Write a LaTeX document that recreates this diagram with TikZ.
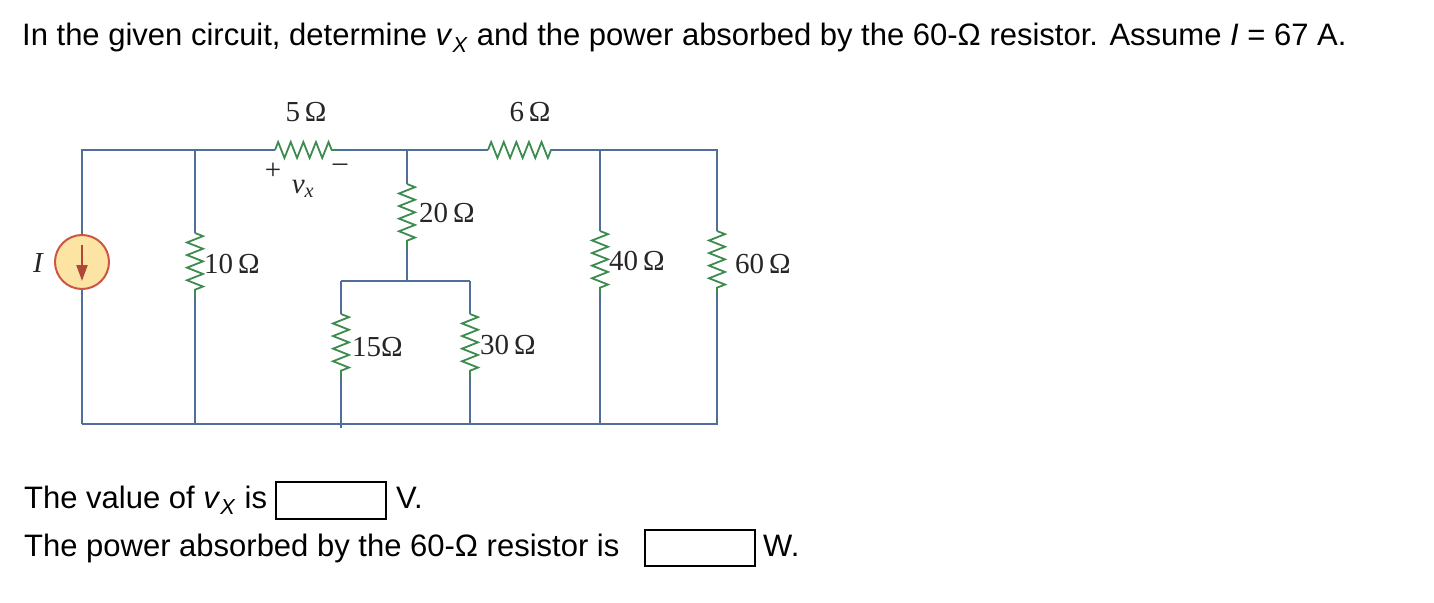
\documentclass[tikz,border=0pt]{standalone}
\usepackage{fontspec}
\setmainfont{Liberation Sans}
\newfontfamily\serifl{Liberation Serif}
\usetikzlibrary{decorations.pathmorphing,arrows.meta}
\definecolor{wire}{RGB}{80,110,155}
\definecolor{res}{RGB}{60,140,80}
\definecolor{srcfill}{RGB}{252,228,165}
\definecolor{srcline}{RGB}{205,85,65}
\begin{document}
\begin{tikzpicture}[x=1pt,y=-1pt,
  w/.style={draw=wire,line width=1.8pt},
  r/.style={draw=res,line width=1.8pt,decorate,decoration={zigzag,segment length=12.6pt,amplitude=8pt}},
  lab/.style={font=\serifl\fontsize{29}{31}\selectfont,inner sep=0pt,text=black!85},
  labw/.style={lab,anchor=west},
  txt/.style={font=\fontsize{31}{34}\selectfont,inner sep=0pt,anchor=base west},
  box/.style={draw=black,line width=1.2pt}]
\useasboundingbox (0,0) rectangle (1434,602);
% coordinates
\coordinate (TL) at (82,150); \coordinate (BL) at (82,424);
\coordinate (T10) at (195,150); \coordinate (B10) at (195,424);
\coordinate (r5a) at (275,150); \coordinate (r5b) at (338,150);
\coordinate (T20) at (407,150); \coordinate (r20a) at (407,184); \coordinate (r20b) at (407,247);
\coordinate (M20) at (407,281); \coordinate (M15) at (341,281); \coordinate (M30) at (470,281);
\coordinate (r15a) at (341,314); \coordinate (r15b) at (341,377); \coordinate (B15) at (341,428);
\coordinate (r30a) at (470,314); \coordinate (r30b) at (470,377); \coordinate (B30) at (470,424);
\coordinate (r6a) at (488,150); \coordinate (r6b) at (552,150);
\coordinate (T40) at (600,150); \coordinate (r40a) at (600,231); \coordinate (r40b) at (600,293); \coordinate (B40) at (600,424);
\coordinate (T60) at (717,150); \coordinate (r60a) at (717,231); \coordinate (r60b) at (717,293); \coordinate (B60) at (717,424);
\coordinate (r10a) at (195,233); \coordinate (r10b) at (195,296);
% wires
\path[w] (BL) -- (B60) -- (r60b) (r60a) -- (T60) -- (r6b);
\path[w] (r6a) -- (r5b);
\path[w] (r5a) -- (TL) -- (BL);
\path[w] (T10) -- (r10a) (r10b) -- (B10);
\path[w] (T20) -- (r20a) (r20b) -- (M20);
\path[w] (M15) -- (M30) (M15) -- (r15a) (r15b) -- (B15) (M30) -- (r30a) (r30b) -- (B30);
\path[w] (T40) -- (r40a) (r40b) -- (B40);
% resistors
\foreach \a/\b in {r5a/r5b,r6a/r6b,r10a/r10b,r20a/r20b,r15a/r15b,r30a/r30b,r40a/r40b,r60a/r60b}
  \path[r] (\a) -- (\b);
% source
\node[circle,draw=srcline,fill=srcfill,line width=2pt,minimum size=54pt,inner sep=0pt] (src) at (82,262) {};
\coordinate (sa) at (82,245); \coordinate (sb) at (82,281);
\draw[srcline!85!black,line width=2pt,-{Triangle[length=16pt,width=11pt]}] (sa) -- (sb);
% labels
\node[lab] (lI) at (38,263) {\itshape I};
\node[lab] (l5) at (306,112) {5\,Ω};
\node[lab] (lp) at (273,171) {+};
\node[lab] (lm) at (340,168) {–};
\node[lab] (lv) at (303,189) {\itshape v\textsubscript{x}};
\node[labw] (l20) at (419,213) {20\,Ω};
\node[labw] (l10) at (204,264) {10\,Ω};
\node[lab] (l6) at (530,112) {6\,Ω};
\node[labw] (l40) at (609,261) {40\,Ω};
\node[labw] (l60) at (735,264) {60\,Ω};
\node[labw] (l15) at (352,347) {15Ω};
\node[labw] (l30) at (480,345) {30\,Ω};
% text
\node[txt] (h) at (22,46) {In the given circuit, determine \textit{v}\textsubscript{\textit{X}} and the power absorbed by the 60-Ω resistor. Assume \textit{I} = 67 A.};
\node[txt] (t1) at (24,508) {The value of \textit{v}\textsubscript{\textit{X}} is};
\node[box,minimum width=110pt,minimum height=37pt,inner sep=0pt] (b1) at (331,500.5) {};
\node[txt] (t1b) at (396,508) {V.};
\node[txt] (t2) at (24,556) {The power absorbed by the 60-Ω resistor is};
\node[box,minimum width=110pt,minimum height=36pt,inner sep=0pt] (b2) at (700,548) {};
\node[txt] (t2b) at (763,556) {W.};
\end{tikzpicture}
\end{document}
